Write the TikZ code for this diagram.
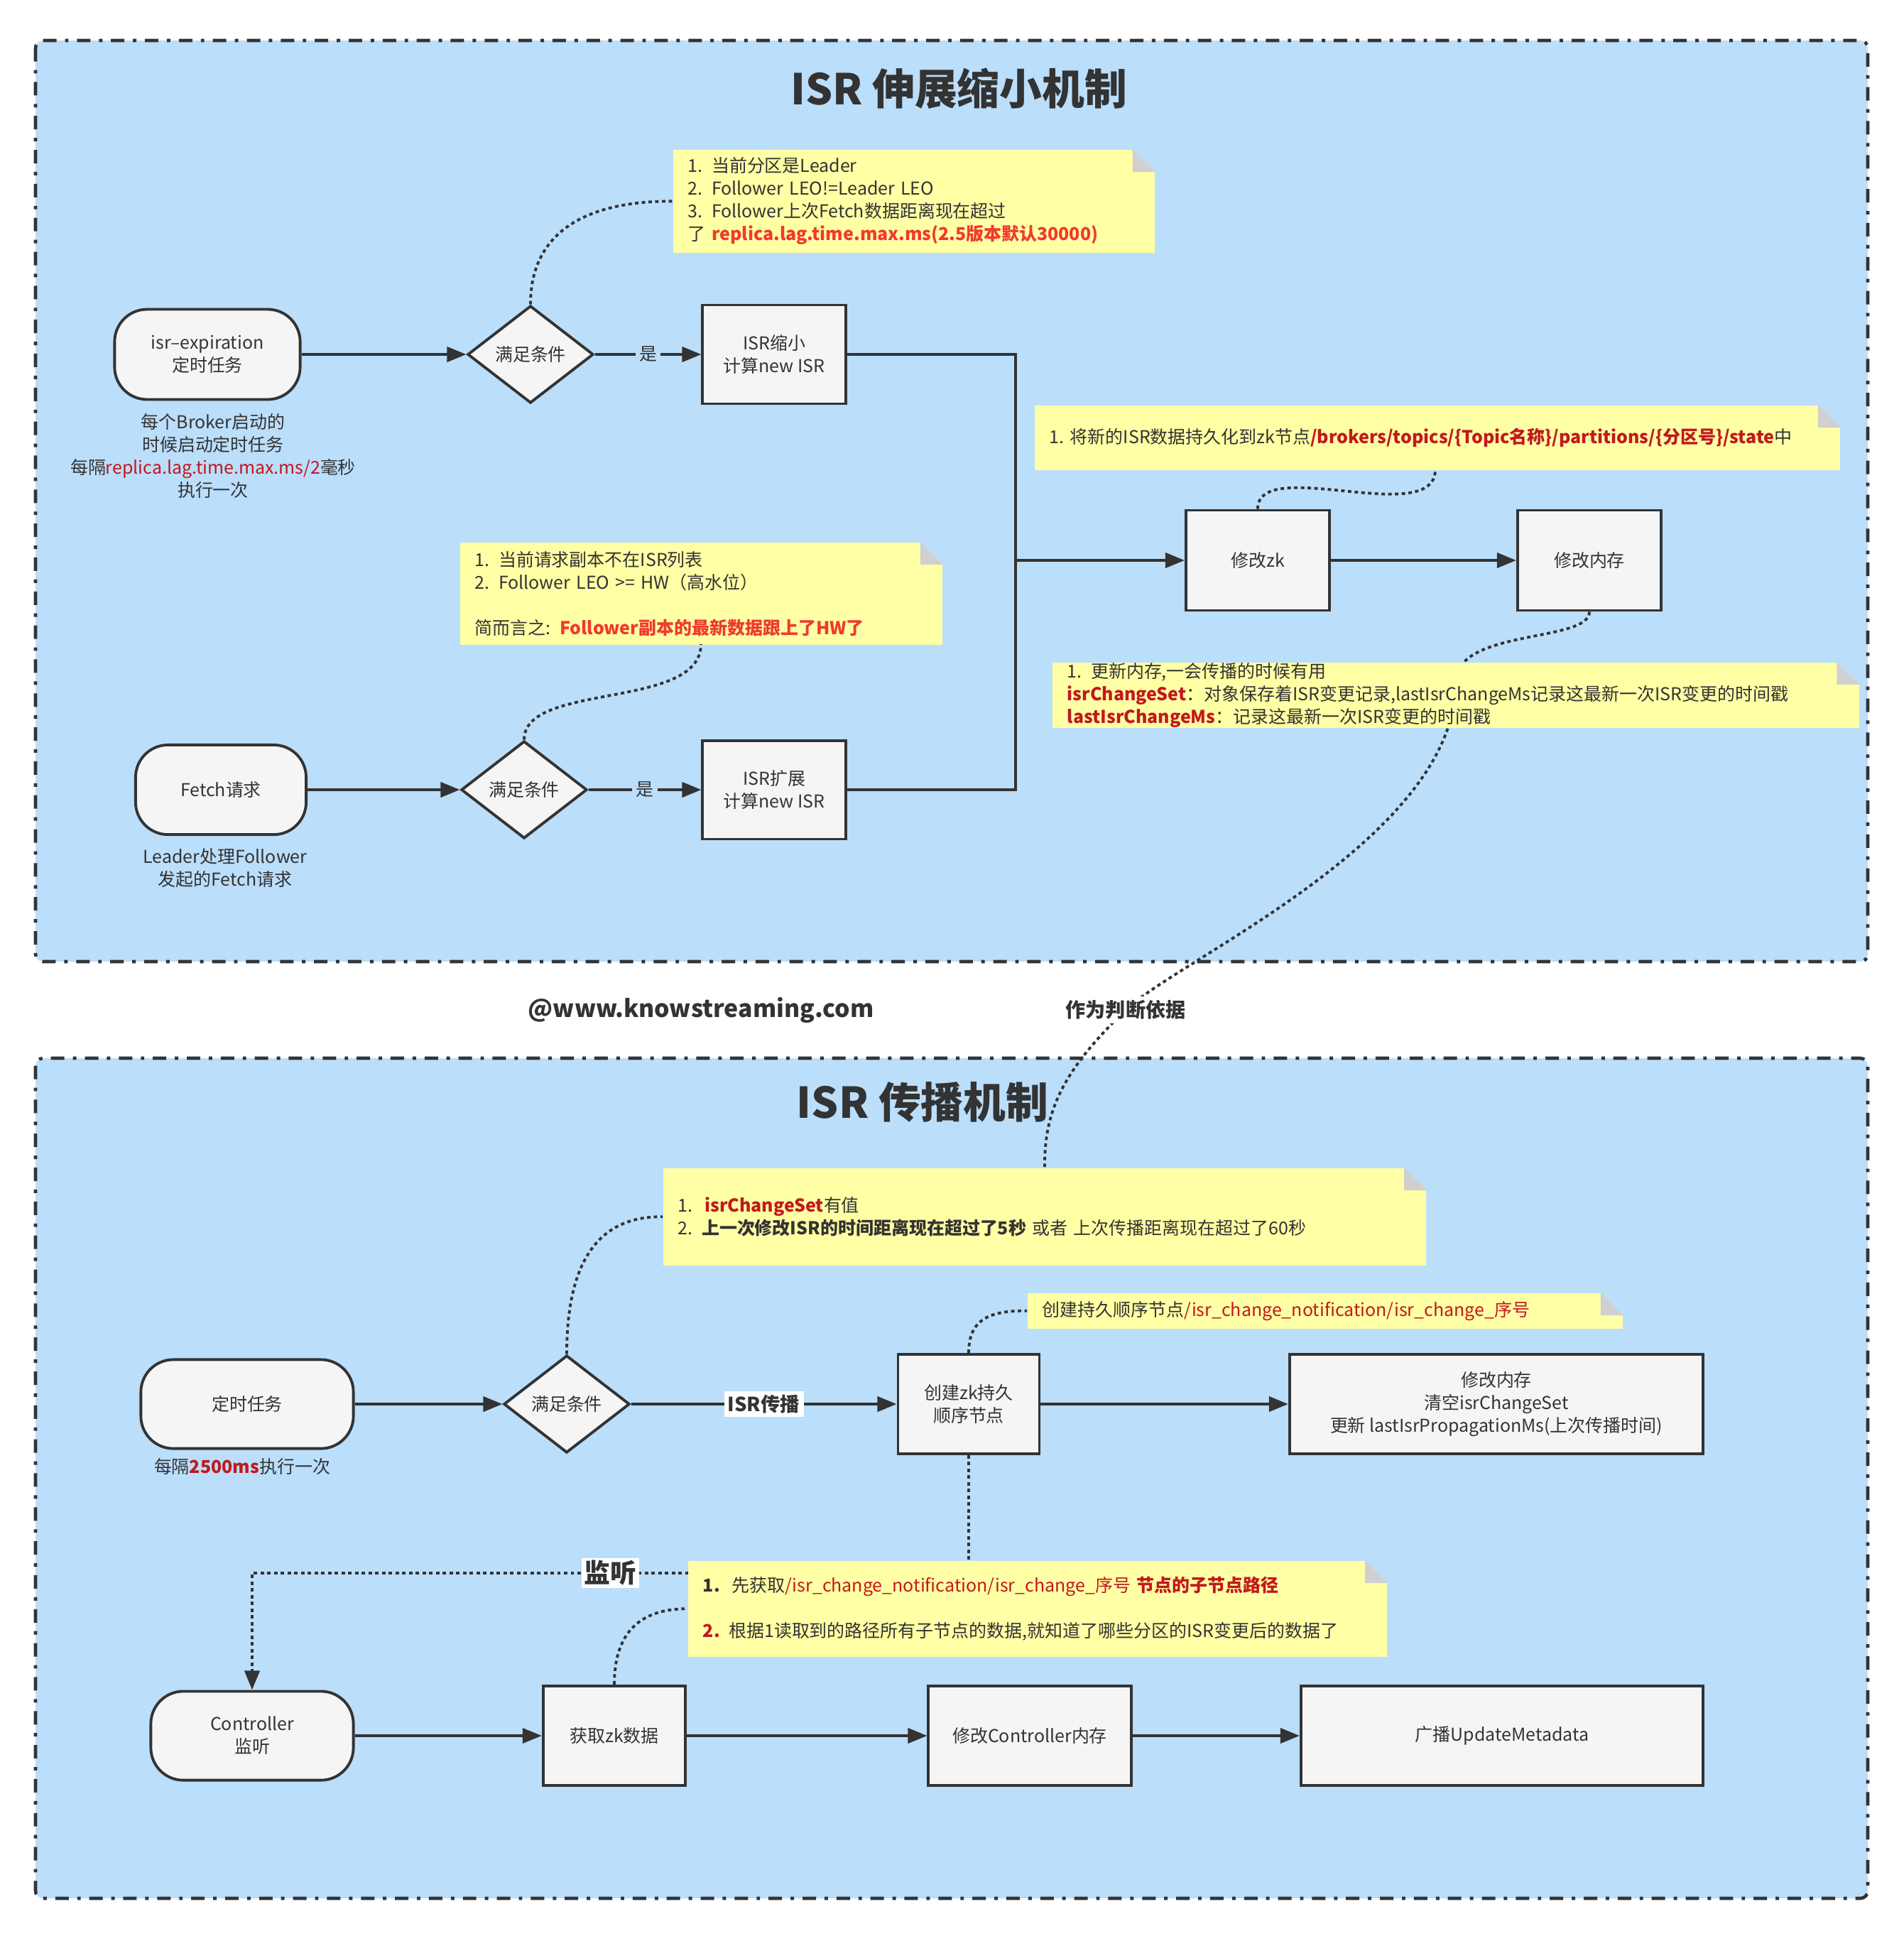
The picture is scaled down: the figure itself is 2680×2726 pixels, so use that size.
\documentclass[tikz,border=0pt]{standalone}
\usepackage{fontspec}
\setmainfont{Noto Sans CJK SC}
\usetikzlibrary{shapes.geometric,arrows.meta}

\definecolor{ink}{RGB}{51,51,51}
\definecolor{panelblue}{RGB}{187,222,251}
\definecolor{boxgray}{RGB}{245,245,245}
\definecolor{noteyellow}{RGB}{255,255,165}
\definecolor{foldgray}{RGB}{208,208,208}
\definecolor{brightred}{RGB}{240,58,46}
\definecolor{deepred}{RGB}{193,25,30}

\newcommand{\dogear}[1]{%
	\fill[panelblue] (#1.north east) -- ++(-32,0) -- ++(32,32) -- cycle;
	\fill[foldgray] (#1.north east) ++(-32,0) -- ++(0,32) -- ++(32,0) -- cycle;}

\tikzset{
	txt/.style={font=\fontsize{7.1pt}{9.1pt}\selectfont, text=ink},
	headline/.style={font=\fontsize{17pt}{20pt}\selectfont\bfseries, text=ink},
	panel/.style={draw=ink, fill=panelblue, line width=1.3pt, rounded corners=3pt, dash pattern=on 5.4pt off 3.4pt on 1.4pt off 3.4pt},
	pill/.style={txt, draw=ink, line width=1.1pt, fill=boxgray, rounded corners=13pt, align=center, inner sep=0pt},
	proc/.style={txt, draw=ink, line width=1.1pt, fill=boxgray, align=center, inner sep=0pt},
	cond/.style={txt, diamond, draw=ink, line width=1.1pt, fill=boxgray, aspect=1.3, inner sep=0pt, minimum width=50.4pt, minimum height=39pt},
	note/.style={txt, fill=noteyellow, anchor=north west, align=left, inner xsep=6pt, inner ysep=0pt},
	arr/.style={draw=ink, line width=1.1pt, -{Triangle[length=7.7pt,width=6pt]}},
	link/.style={draw=ink, line width=1.1pt},
	dots/.style={draw=ink, line width=1.1pt, dash pattern=on 1.4pt off 1.3pt},
	yes/.style={txt, fill=panelblue, inner sep=1.5pt},
	tag/.style={font=\fontsize{7.8pt}{9pt}\selectfont\bfseries, text=ink, fill=white, inner sep=1.5pt},
	listen/.style={font=\fontsize{10.5pt}{12pt}\selectfont\bfseries, text=ink, fill=white, inner sep=1pt},
}

\begin{document}
\begin{tikzpicture}[x=0.01cm, y=-0.01cm]
	\useasboundingbox (0,0) rectangle (2680,2726);
	\fill[white] (0,0) rectangle (2680,2726);
	\draw[panel] (50,57) rectangle (2630,1354);
	\draw[panel] (50,1490) rectangle (2630,2673);

	\node[headline] (topttl) at (1350,125) {ISR 伸展缩小机制};
	\node[headline] (botttl) at (1299,1552) {ISR 传播机制};
	\node[font=\fontsize{9.6pt}{12pt}\selectfont\bfseries, text=ink] (site) at (987,1422) {@www.knowstreaming.com};

	\node[pill, minimum width=74.3pt, minimum height=36.1pt] (isrexp) at (292,499) {isr–expiration\\定时任务};
	\node[txt, align=center] (isrexpcap) at (300,642) {每个Broker启动的\\时候启动定时任务\\每隔{\color{deepred}replica.lag.time.max.ms/2}毫秒\\执行一次};
	\node[cond] (chk1) at (747,499) {满足条件};
	\node[proc, minimum width=57.2pt, minimum height=39.5pt] (shrink) at (1090,499) {ISR缩小\\计算new ISR};
	\node[pill, minimum width=68.3pt, minimum height=35.9pt] (fetch) at (311,1112) {Fetch请求};
	\node[txt, align=center] (fetchcap) at (317,1222) {Leader处理Follower\\发起的Fetch请求};
	\node[cond] (chk2) at (738,1112) {满足条件};
	\node[proc, minimum width=57.2pt, minimum height=39.5pt] (expand) at (1090,1112) {ISR扩展\\计算new ISR};
	\coordinate (merge) at (1430,789);
	\node[proc, minimum width=57.5pt, minimum height=40.1pt] (modzk) at (1771,789) {修改zk};
	\node[proc, minimum width=57.5pt, minimum height=40.1pt] (modmem) at (2238,789) {修改内存};

	\node[pill, minimum width=85.1pt, minimum height=35.6pt] (timer) at (348,1977) {定时任务};
	\node[txt] (timercap) at (341,2065) {每隔{\color{deepred}\bfseries 2500ms}执行一次};
	\node[cond] (chk3) at (798,1977) {满足条件};
	\node[proc, minimum width=56.6pt, minimum height=39.8pt] (mkzk) at (1364,1977) {创建zk持久\\顺序节点};
	\node[proc, minimum width=165.6pt, minimum height=39.8pt] (clrmem) at (2107,1977) {修改内存\\清空isrChangeSet\\更新 lastIsrPropagationMs(上次传播时间)};
	\node[pill, minimum width=81.1pt, minimum height=35.6pt] (ctrl) at (355,2444) {Controller\\监听};
	\node[proc, minimum width=57pt, minimum height=40pt] (getzk) at (865,2444) {获取zk数据};
	\node[proc, minimum width=81.1pt, minimum height=40pt] (modctl) at (1450,2444) {修改Controller内存};
	\node[proc, minimum width=161pt, minimum height=40pt] (bcast) at (2115,2444) {广播UpdateMetadata};

	\draw
	(isrexp) edge[arr] (chk1)
	(chk1) edge[arr] node[yes] {是} (shrink)
	(fetch) edge[arr] (chk2)
	(chk2) edge[arr] node[yes] {是} (expand)
	(merge) edge[arr] (modzk)
	(modzk) edge[arr] (modmem)
	(timer) edge[arr] (chk3)
	(chk3) edge[arr] node[tag] {ISR传播} (mkzk)
	(mkzk) edge[arr] (clrmem)
	(ctrl) edge[arr] (getzk)
	(getzk) edge[arr] (modctl)
	(modctl) edge[arr] (bcast)
	;
	\draw[link] (shrink) -| (merge);
	\draw[link] (expand) -| (merge);

	\node[note, minimum width=192.9pt, minimum height=41.3pt, text width=180.9pt] (cond1note) at (947,210) {1. 当前分区是Leader\\2. Follower LEO!=Leader LEO\\3. Follower上次Fetch数据距离现在超过\\了 {\color{brightred}\bfseries replica.lag.time.max.ms(2.5版本默认30000)}};
	\dogear{cond1note}
	\node[note, minimum width=322.6pt, minimum height=25.9pt, text width=310.6pt] (zknote) at (1456,570) {1.~将新的ISR数据持久化到zk节点{\color{deepred}\bfseries /brokers/topics/\{Topic名称\}/partitions/\{分区号\}/state}中};
	\dogear{zknote}
	\node[note, minimum width=193.2pt, minimum height=41pt, text width=181.2pt] (cond2note) at (647,763) {1. 当前请求副本不在ISR列表\\2. Follower LEO >= HW（高水位）\\[9.1pt]简而言之: {\color{brightred}\bfseries Follower副本的最新数据跟上了HW了}};
	\dogear{cond2note}
	\node[note, minimum width=305.6pt, minimum height=39pt, text width=293.6pt] (cond3note) at (933,1644) {1.~~{\color{deepred}\bfseries isrChangeSet}有值\\2. {\bfseries 上一次修改ISR的时间距离现在超过了5秒} 或者 上次传播距离现在超过了60秒};
	\dogear{cond3note}
	\node[note, minimum width=238.4pt, minimum height=14.2pt, text width=226.4pt] (seqnote) at (1446,1820) {创建持久顺序节点{\color{deepred}/isr\_change\_notification/isr\_change\_序号}};
	\dogear{seqnote}

	\draw[dots] (modmem.south) .. controls (2238,905) and (2050,885) .. (2050,960) .. controls (2050,1180) and (1660,1350) .. (1585,1422) node[tag, font=\fontsize{8pt}{9pt}\selectfont\bfseries] (why) {作为判断依据} .. controls (1500,1505) and (1470,1560) .. (cond3note.north);
	\coordinate (lt) at (1364,2215);
	\draw[dots, -{Triangle[length=7.7pt,width=6pt]}] (mkzk) -- (lt) -| node[pos=0.25, listen] {监听} (ctrl);

	\node[note, minimum width=323pt, minimum height=26.2pt, text width=311pt] (memnote) at (1481,932) {1. 更新内存,一会传播的时候有用\\{\color{deepred}\bfseries isrChangeSet}：对象保存着ISR变更记录,lastIsrChangeMs记录这最新一次ISR变更的时间戳\\{\color{deepred}\bfseries lastIsrChangeMs}：记录这最新一次ISR变更的时间戳};
	\dogear{memnote}
	\node[note, minimum width=280pt, minimum height=38.4pt, text width=268pt] (readnote) at (968,2197) {{\bfseries 1.}~~先获取{\color{deepred}/isr\_change\_notification/isr\_change\_序号 \bfseries 节点的子节点路径}\\[9.1pt]{\color{deepred}\bfseries 2.} 根据1读取到的路径所有子节点的数据,就知道了哪些分区的ISR变更后的数据了};
	\dogear{readnote}

	\draw[dots] (chk1.north) .. controls (747,330) and (820,283) .. (cond1note.west);
	\draw[dots] (modzk.north) .. controls (1771,640) and (2021,745) .. (2021,661);
	\draw[dots] (chk2.north) .. controls (738,960) and (987,1000) .. (987,907);
	\draw[dots] (chk3.north) .. controls (798,1780) and (840,1712) .. (cond3note.west);
	\draw[dots] (mkzk.north) .. controls (1364,1860) and (1390,1845) .. (seqnote.west);
	\draw[dots] (getzk.north) .. controls (865,2300) and (900,2265) .. (readnote.west);
\end{tikzpicture}
\end{document}
